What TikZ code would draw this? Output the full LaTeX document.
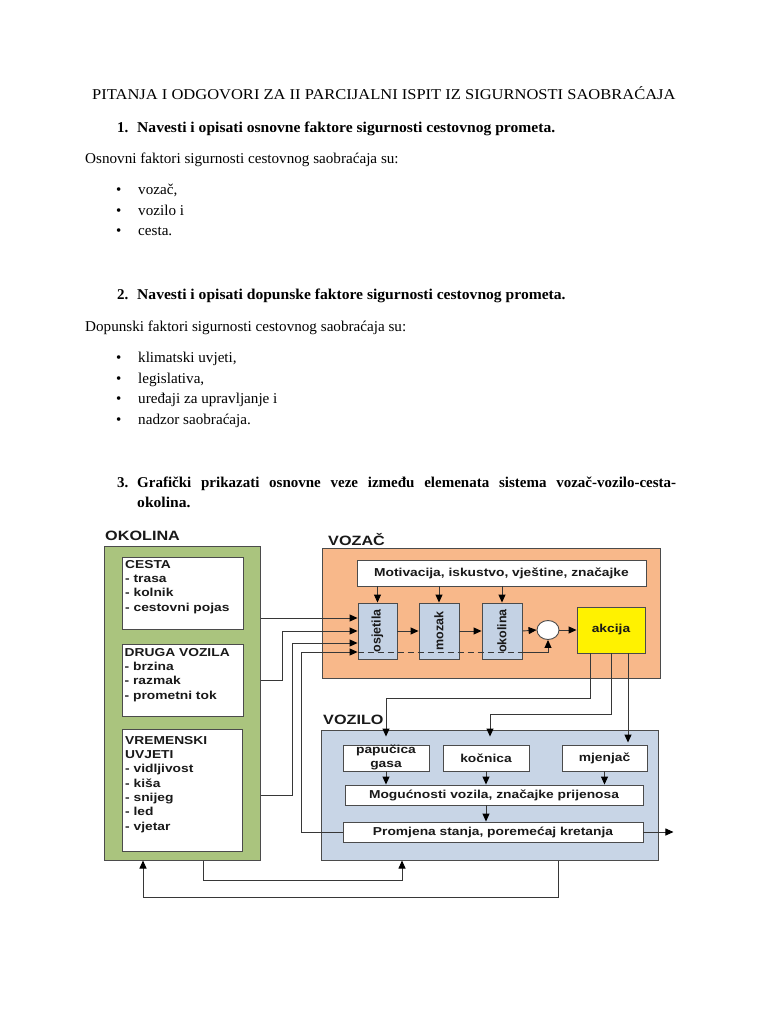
\documentclass[tikz,border=0pt]{standalone}
\usepackage{fontspec}
\usepackage{graphicx}
\setmainfont{Liberation Serif}
\newfontfamily\dsans{Liberation Sans}
\usetikzlibrary{arrows.meta,calc,shapes.geometric}
\definecolor{okgreen}{RGB}{170,196,126}
\definecolor{vzorange}{RGB}{248,184,138}
\definecolor{vlblue}{RGB}{200,213,230}
\definecolor{inblue}{RGB}{196,210,228}
\definecolor{edgec}{RGB}{75,75,75}
\definecolor{wirec}{RGB}{55,55,55}
\newcommand{\dsx}[1]{\scalebox{1.2}[1]{#1}}
\newcommand{\bodyfont}{\fontsize{15}{17}\selectfont}
\newcommand{\bsx}[1]{\scalebox{1.01}[1]{#1}}
\newcommand{\qsx}[1]{\scalebox{1.04}[1]{#1}}
\newcommand{\tsx}[1]{\scalebox{1.10}[1]{#1}}
\begin{document}
\begin{tikzpicture}[x=1pt,y=-1pt,
  wire/.style={draw=wirec, line width=0.9pt},
  arr/.style={wire, -{Triangle[length=8pt,width=7pt,color=black]}},
  bigbox/.style={draw=edgec, line width=1pt, inner sep=0pt},
  inbox/.style={draw=edgec, line width=0.9pt, fill=white, inner sep=0pt},
  lbl/.style={font=\dsans\bfseries\fontsize{13.5}{14}\selectfont, anchor=west, inner sep=0pt, text=black!90},
  txt/.style={font=\dsans\bfseries\fontsize{11.5}{14.3}\selectfont, inner sep=0pt, text=black!90},
  rtxt/.style={font=\dsans\bfseries\fontsize{12.5}{14}\selectfont, inner sep=0pt, rotate=90, text=black!90},
  body/.style={font=\bodyfont, anchor=base west, inner sep=0pt},
  bbody/.style={font=\bodyfont\bfseries, anchor=base west, inner sep=0pt}
]
\useasboundingbox[fill=white] (0,0) rectangle (768,1024);

% ---------- text ----------
\node[body] (t0) at (92,100) {\tsx{PITANJA I ODGOVORI ZA II PARCIJALNI ISPIT IZ SIGURNOSTI SAOBRAĆAJA}};
\node[bbody] (n1) at (117,133) {1.};
\node[bbody] (q1) at (137,133) {\qsx{Navesti i opisati osnovne faktore sigurnosti cestovnog prometa.}};
\node[body] (p1) at (85,164) {\bsx{Osnovni faktori sigurnosti cestovnog saobraćaja su:}};
\node[body] (b11) at (116,195) {\textbullet};
\node[body] (i11) at (138,195) {\bsx{vozač,}};
\node[body] (b12) at (116,216) {\textbullet};
\node[body] (i12) at (138,216) {\bsx{vozilo i}};
\node[body] (b13) at (116,236) {\textbullet};
\node[body] (i13) at (138,236) {\bsx{cesta.}};

\node[bbody] (n2) at (117,299) {2.};
\node[bbody] (q2) at (137,299) {\qsx{Navesti i opisati dopunske faktore sigurnosti cestovnog prometa.}};
\node[body] (p2) at (85,331) {\bsx{Dopunski faktori sigurnosti cestovnog saobraćaja su:}};
\node[body] (b21) at (116,362) {\textbullet};
\node[body] (i21) at (138,362) {\bsx{klimatski uvjeti,}};
\node[body] (b22) at (116,383) {\textbullet};
\node[body] (i22) at (138,383) {\bsx{legislativa,}};
\node[body] (b23) at (116,403) {\textbullet};
\node[body] (i23) at (138,403) {\bsx{uređaji za upravljanje i}};
\node[body] (b24) at (116,424) {\textbullet};
\node[body] (i24) at (138,424) {\bsx{nadzor saobraćaja.}};

\node[bbody] (n3) at (117,487) {3.};
\node[bbody] (q3) at (137,487) {\makebox[539pt][s]{Grafički prikazati osnovne veze između elemenata sistema vozač-vozilo-cesta-}};
\node[bbody] (q3b) at (137,507) {\qsx{okolina.}};

% ---------- OKOLINA ----------
\node[lbl] (lok) at (105,536) {\dsx{OKOLINA}};
\node[bigbox, fill=okgreen, minimum width=156pt, minimum height=314pt] (okol) at (182,703) {};
\node[inbox, minimum width=121pt, minimum height=72pt] (cesta) at (182.5,593) {};
\node[inbox, minimum width=121pt, minimum height=72pt] (druga) at (182.5,680) {};
\node[inbox, minimum width=120pt, minimum height=122pt] (vrem) at (182,790) {};
\node[txt, anchor=north west] (tcesta) at (125,558) {\dsx{\begin{tabular}{@{}l@{}}CESTA\\- trasa\\- kolnik\\- cestovni pojas\end{tabular}}};
\node[txt, anchor=north west] (tdruga) at (124.5,646) {\dsx{\begin{tabular}{@{}l@{}}DRUGA VOZILA\\- brzina\\- razmak\\- prometni tok\end{tabular}}};
\node[txt, anchor=north west] (tvrem) at (125,734) {\dsx{\begin{tabular}{@{}l@{}}VREMENSKI\\UVJETI\\- vidljivost\\- kiša\\- snijeg\\- led\\- vjetar\end{tabular}}};

% ---------- VOZAC ----------
\node[lbl] (lvz) at (328,540) {\dsx{VOZAČ}};
\node[bigbox, fill=vzorange, minimum width=338pt, minimum height=130pt] (vozac) at (491,613) {};
\node[inbox, minimum width=289pt, minimum height=26pt] (motiv) at (501.5,573) {};
\node[txt] (tmotiv) at (motiv.center) {\dsx{Motivacija, iskustvo, vještine, značajke}};
\node[inbox, fill=inblue, minimum width=39pt, minimum height=56pt] (osj) at (377.5,631) {};
\node[inbox, fill=inblue, minimum width=40pt, minimum height=56pt] (moz) at (439,631) {};
\node[inbox, fill=inblue, minimum width=40pt, minimum height=56pt] (okb) at (502,631) {};
\node[rtxt] (tosj) at (osj.center) {osjetila};
\node[rtxt] (tmoz) at (moz.center) {mozak};
\node[rtxt] (tokb) at (okb.center) {okolina};
\node[ellipse, draw=edgec, line width=0.9pt, fill=white, minimum width=22pt, minimum height=19pt, inner sep=0pt] (sum) at (548,630) {};
\node[draw=edgec, line width=0.9pt, fill=yellow, minimum width=68pt, minimum height=46pt, inner sep=0pt] (akc) at (611,630) {};
\node[txt] (takc) at (akc.center) {\dsx{akcija}};

% ---------- VOZILO ----------
\node[lbl] (lvl) at (323,720) {\dsx{VOZILO}};
\node[bigbox, fill=vlblue, minimum width=337pt, minimum height=130pt] (vozilo) at (489.5,795) {};
\node[inbox, minimum width=86pt, minimum height=26pt] (pap) at (386,758) {};
\node[inbox, minimum width=86pt, minimum height=26pt] (koc) at (486,758) {};
\node[inbox, minimum width=85pt, minimum height=26pt] (mje) at (604.5,758) {};
\node[inbox, minimum width=298pt, minimum height=20pt] (mog) at (494,795) {};
\node[inbox, minimum width=300pt, minimum height=20pt] (prom) at (493,832) {};
\node[txt, font=\dsans\bfseries\fontsize{11.5}{13.5}\selectfont] (tpap) at (pap.center) {\dsx{\begin{tabular}{@{}c@{}}papučica\\gasa\end{tabular}}};
\node[txt] (tkoc) at (koc.center) {\dsx{kočnica}};
\node[txt] (tmje) at (mje.center) {\dsx{mjenjač}};
\node[txt] (tmog) at (mog.center) {\dsx{Mogućnosti vozila, značajke prijenosa}};
\node[txt] (tprom) at (prom.center) {\dsx{Promjena stanja, poremećaj kretanja}};

% ---------- helper coordinates ----------
\coordinate (o1) at ($(akc.south)+(-21,0)$);
\coordinate (o2) at (akc.south);
\coordinate (o3) at ($(akc.south)+(17,0)$);
\coordinate (in1) at ($(osj.west)+(0,-13)$);
\coordinate (in3) at ($(osj.west)+(0,12)$);
\coordinate (in4) at ($(osj.west)+(0,21)$);
\coordinate (dashend) at ($(okb.east)+(0,21)$);
\coordinate (kin) at ($(koc.north)+(4,0)$);
\coordinate (okd) at ($(okol.south)+(21,0)$);
\coordinate (oku) at ($(okol.south)+(-39,0)$);
\coordinate (vzu) at ($(vozilo.south)+(-87.5,0)$);
\coordinate (vzd) at ($(vozilo.south)+(68.5,0)$);

% ---------- connectors inside VOZAC ----------
\draw[arr] (osj.north |- motiv.south) -- (osj.north);
\draw[arr] (moz.north |- motiv.south) -- (moz.north);
\draw[arr] (okb.north |- motiv.south) -- (okb.north);
\draw[arr] (osj.east) -- (moz.west);
\draw[arr] (moz.east) -- (okb.west);
\draw[arr] (okb.east) -- (sum.west);
\draw[arr] (sum.east) -- (akc.west);
\draw[wire, dash pattern=on 6pt off 4pt] (in4) -- (dashend);
\draw[arr] (dashend) -| (sum.south);

% ---------- inputs into osjetila ----------
\draw[arr] (okol.east |- in1) -- (in1);
\draw[arr] (okol.east |- druga.east) -- ($(okol.east |- druga.east)+(22,0)$) |- (osj.west);
\draw[arr] ($(okol.east |- vrem.east)+(0,5)$) -- ($(okol.east |- vrem.east)+(32,5)$) |- (in3);
\draw[arr] (prom.west) -- ($(prom.west)+(-41,0)$) |- (in4);

% ---------- akcija outputs ----------
\draw[arr, shorten >=8pt] (o1) -- ($(o1)+(0,45)$) -| (pap.north);
\draw[arr, shorten >=8pt] (o2) -- ($(o2)+(0,61)$) -| (kin);
\draw[arr, shorten >=2pt] (o3) -- (o3 |- mje.north);

% ---------- inside VOZILO ----------
\draw[arr] (pap.south) -- (pap.south |- mog.north);
\draw[arr] (koc.south) -- (koc.south |- mog.north);
\draw[arr] (mje.south) -- (mje.south |- mog.north);
\draw[arr] (mog.south -| koc.south) -- (prom.north -| koc.south);
\draw[arr] (prom.east) -- ($(prom.east)+(30,0)$);

% ---------- bottom loops ----------
\draw[arr] (okd) -- ($(okd)+(0,20)$) -| (vzu);
\draw[arr] (vzd) -- ($(vzd)+(0,37)$) -| (oku);
\end{tikzpicture}
\end{document}
